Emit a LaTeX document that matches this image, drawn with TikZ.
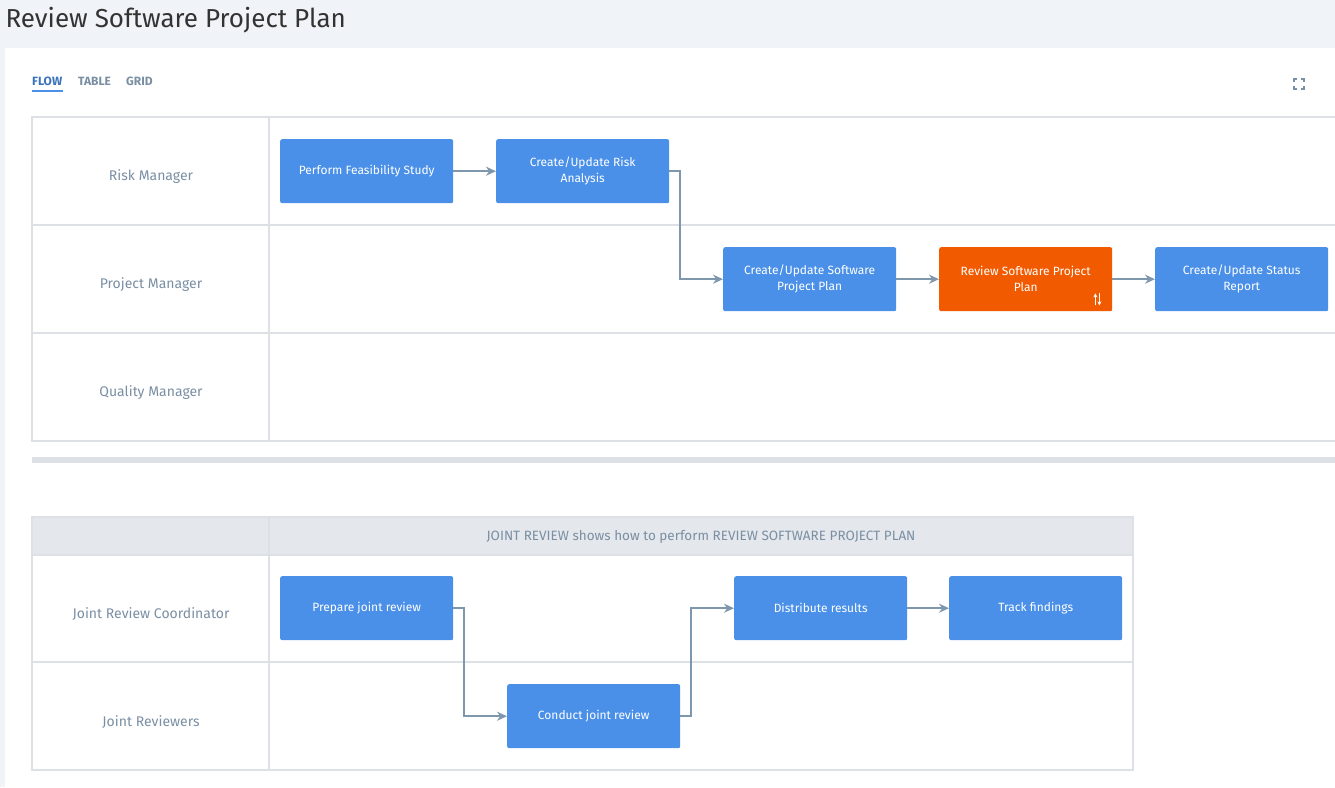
\documentclass[tikz,border=0pt]{standalone}
\usepackage{fontspec}
\setmainfont{Fira Sans}
\usetikzlibrary{arrows.meta}
\definecolor{pagebg}{HTML}{F0F3F7}
\definecolor{lanegrid}{HTML}{DDE1E5}
\definecolor{lanetext}{HTML}{7A8FA3}
\definecolor{taskblue}{HTML}{4A90E8}
\definecolor{taskorange}{HTML}{F25A00}
\definecolor{flowline}{HTML}{7F97AD}
\definecolor{hdrgray}{HTML}{E4E7EB}
\tikzset{
  task/.style={draw=none, fill=taskblue, rounded corners=2pt, minimum width=173pt,
    minimum height=64pt, align=center, text=white,
    font=\fontsize{12}{16}\selectfont, anchor=north west},
  lane/.style={text=lanetext, font=\fontsize{14}{16}\selectfont},
  flow/.style={draw=flowline, line width=2pt, -{Stealth[length=10pt,width=9pt]}},
  grid/.style={draw=lanegrid, line width=1.2pt}
}
\begin{document}
\begin{tikzpicture}[x=1pt,y=-1pt]
\useasboundingbox (0,0) rectangle (1335,787);
\fill[pagebg] (0,0) rectangle (1335,787);
\fill[white] (5,48) rectangle (1335,787);
\node[anchor=west, font=\fontsize{26}{30}\selectfont, text=black!80] (title) at (2,20) {Review Software Project Plan};

% tabs
\node[anchor=west, font=\bfseries\fontsize{12}{13}\selectfont, text=taskblue!80!black, inner sep=0pt] (tflow) at (32,81) {FLOW};
\node[anchor=west, font=\bfseries\fontsize{12}{13}\selectfont, text=lanetext, inner sep=0pt] (ttable) at (78,81) {TABLE};
\node[anchor=west, font=\bfseries\fontsize{12}{13}\selectfont, text=lanetext, inner sep=0pt] (tgrid) at (126,81) {GRID};
\draw[taskblue, line width=1.5pt] (32,91) -- (63,91);
\draw[lanetext, line width=1.2pt] (1294,82)--(1294,79)--(1297,79) (1301,79)--(1304,79)--(1304,82)
  (1304,86)--(1304,89)--(1301,89) (1297,89)--(1294,89)--(1294,86);

% upper lanes
\draw[grid] (1335,117) -- (32,117) -- (32,441) -- (1335,441);
\draw[grid] (32,225) -- (1335,225) (32,333) -- (1335,333) (269,117) -- (269,441);
\node[lane] (lrisk) at (151,177) {Risk Manager};
\node[lane] (lproj) at (151,285) {Project Manager};
\node[lane] (lqual) at (151,393) {Quality Manager};
\fill[lanegrid] (32,457) rectangle (1335,463);

% lower lanes
\fill[hdrgray] (32,517) rectangle (1133,555);
\draw[grid] (32,517) rectangle (1133,770);
\draw[grid] (32,555) -- (1133,555) (32,662) -- (1133,662) (269,517) -- (269,770);
\node[text=lanetext, font=\fontsize{13.5}{15}\selectfont] (hdr) at (701,537) {JOINT REVIEW shows how to perform REVIEW SOFTWARE PROJECT PLAN};
\node[lane] (lcoord) at (151,614) {Joint Review Coordinator};
\node[lane] (lrev) at (151,722) {Joint Reviewers};

% tasks
\node[task] (feas) at (280,139) {Perform Feasibility Study};
\node[task] (risk) at (496,139) {Create/Update Risk\\Analysis};
\node[task] (spp) at (723,247) {Create/Update Software\\Project Plan};
\node[task, fill=taskorange] (review) at (939,247) {Review Software Project\\Plan};
\node[task] (status) at (1155,247) {Create/Update Status\\Report};
\node[task] (prep) at (280,576) {Prepare joint review};
\node[task] (cond) at (507,684) {Conduct joint review};
\node[task] (dist) at (734,576) {Distribute results};
\node[task] (track) at (949,576) {Track findings};
\draw[white, line width=1pt, -{Stealth[length=4pt,width=4pt]}] ([shift={(-17,-6)}]review.south east) -- ++(0,-12);
\draw[white, line width=1pt, -{Stealth[length=4pt,width=4pt]}] ([shift={(-13,-18)}]review.south east) -- ++(0,12);

% connectors
\draw[flow] (feas) -- (risk);
\draw[flow] (risk.east) -- ++(11,0) |- (spp.west);
\draw[flow] (spp) -- (review);
\draw[flow] (review) -- (status);
\draw[flow] (prep.east) -- ++(11,0) |- (cond.west);
\draw[flow] (cond.east) -- ++(11,0) |- (dist.west);
\draw[flow] (dist) -- (track);
\end{tikzpicture}
\end{document}
